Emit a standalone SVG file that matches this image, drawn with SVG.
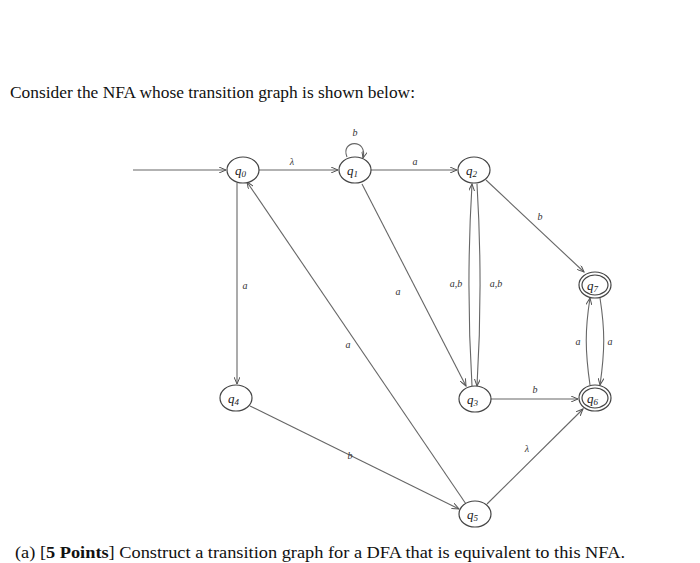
<svg xmlns="http://www.w3.org/2000/svg" width="700" height="563" viewBox="0 0 700 563">
<defs>
<marker id="ah" markerWidth="8" markerHeight="6" refX="7" refY="3" orient="auto" markerUnits="userSpaceOnUse"><path d="M0,0 L7,3 L0,6" fill="none" stroke="#555" stroke-width="1"/></marker>
</defs>
<style>
.n{fill:#fff;stroke:#444;stroke-width:1.2}
.e{fill:none;stroke:#666;stroke-width:1.1;marker-end:url(#ah)}
.t{font-family:"Liberation Serif",serif;font-style:italic;fill:#222}
.l{font-family:"Liberation Serif",serif;font-style:italic;font-size:10px;fill:#333;text-anchor:middle}
.h{font-family:"Liberation Serif",serif;font-size:16px;fill:#111}
</style>
<rect width="700" height="563" fill="#fff"/>
<text class="h" x="10" y="98" textLength="405" lengthAdjust="spacingAndGlyphs">Consider the NFA whose transition graph is shown below:</text>
<text class="h" x="15" y="558" textLength="610" lengthAdjust="spacingAndGlyphs">(a) [<tspan font-weight="bold">5 Points</tspan>] Construct a transition graph for a DFA that is equivalent to this NFA.</text>
<g id="edges">
<line class="e" x1="133" y1="170" x2="226" y2="170"/>
<line class="e" x1="259" y1="170" x2="338" y2="170"/>
<text class="l" x="292" y="165">λ</text>
<path class="e" d="M347,157 C340,140 368,138 363,158"/>
<text class="l" x="355" y="136">b</text>
<line class="e" x1="371" y1="170" x2="457" y2="170"/>
<text class="l" x="415" y="165">a</text>
<line class="e" x1="237" y1="183" x2="237" y2="384"/>
<text class="l" x="245" y="289">a</text>
<line class="e" x1="466" y1="504" x2="247" y2="182"/>
<text class="l" x="348" y="348">a</text>
<line class="e" x1="250" y1="406" x2="459" y2="509"/>
<text class="l" x="350" y="459">b</text>
<line class="e" x1="362" y1="184" x2="466" y2="386"/>
<text class="l" x="398" y="295">a</text>
<path class="e" d="M472,386 C468,320 468,250 472,184"/>
<text class="l" x="456" y="287">a,b</text>
<path class="e" d="M477,184 C481,250 481,320 477,386"/>
<text class="l" x="496" y="287">a,b</text>
<line class="e" x1="486" y1="180" x2="584" y2="272"/>
<text class="l" x="540" y="220">b</text>
<path class="e" d="M590,385 C585,350 585,330 590,298"/>
<text class="l" x="578" y="345">a</text>
<path class="e" d="M600,298 C605,330 605,350 600,385"/>
<text class="l" x="610" y="345">a</text>
<line class="e" x1="491" y1="399" x2="578" y2="399"/>
<text class="l" x="535" y="393">b</text>
<line class="e" x1="487" y1="504" x2="583" y2="409"/>
<text class="l" x="527" y="452">λ</text>
</g>
<g id="q0"><ellipse class="n" cx="243" cy="170" rx="16" ry="13"/><text class="t" x="235" y="175" font-size="13">q<tspan font-size="9" dy="2">0</tspan></text></g>
<g id="q1"><ellipse class="n" cx="355" cy="170" rx="16" ry="13"/><text class="t" x="347" y="175" font-size="13">q<tspan font-size="9" dy="2">1</tspan></text></g>
<g id="q2"><ellipse class="n" cx="474" cy="170" rx="16" ry="13"/><text class="t" x="466" y="175" font-size="13">q<tspan font-size="9" dy="2">2</tspan></text></g>
<g id="q3"><ellipse class="n" cx="475" cy="399" rx="16" ry="13"/><text class="t" x="467" y="404" font-size="13">q<tspan font-size="9" dy="2">3</tspan></text></g>
<g id="q4"><ellipse class="n" cx="236" cy="398" rx="16" ry="13"/><text class="t" x="228" y="403" font-size="13">q<tspan font-size="9" dy="2">4</tspan></text></g>
<g id="q5"><ellipse class="n" cx="475" cy="514" rx="16" ry="13"/><text class="t" x="467" y="519" font-size="13">q<tspan font-size="9" dy="2">5</tspan></text></g>
<g id="q6"><ellipse class="n" cx="595" cy="398" rx="16" ry="13"/><ellipse class="n" cx="595" cy="398" rx="13" ry="10"/><text class="t" x="587" y="403" font-size="13">q<tspan font-size="9" dy="2">6</tspan></text></g>
<g id="q7"><ellipse class="n" cx="595" cy="285" rx="16" ry="13"/><ellipse class="n" cx="595" cy="285" rx="13" ry="10"/><text class="t" x="587" y="290" font-size="13">q<tspan font-size="9" dy="2">7</tspan></text></g>
</svg>
